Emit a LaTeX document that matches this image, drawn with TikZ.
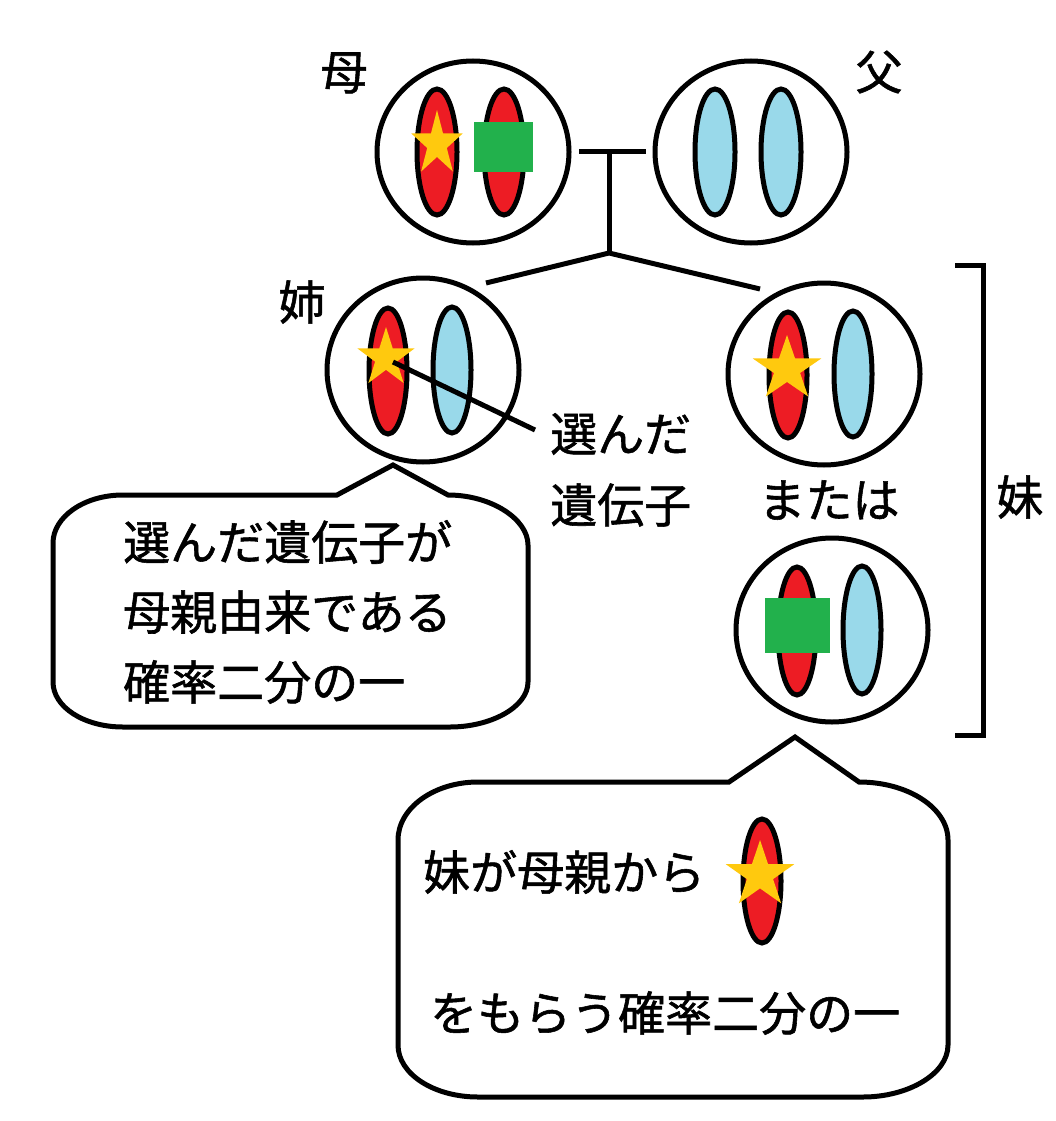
\documentclass[tikz,border=0pt]{standalone}
\usepackage{fontspec}
\newfontfamily\jp[FakeBold=1.2]{Noto Sans CJK JP}
\definecolor{cred}{HTML}{ED1C24}
\definecolor{cblue}{HTML}{99D9EA}
\definecolor{cgreen}{HTML}{22B14C}
\definecolor{cgold}{HTML}{FFC90E}
\newcommand\gstar[4]{\begin{scope}[shift={(#1,#2)},xscale=#3,yscale=-#4]
\fill[cgold] (90:1)--(126:0.382)--(162:1)--(198:0.382)--(234:1)--(270:0.382)--(306:1)--(342:0.382)--(18:1)--(54:0.382)--cycle;
\end{scope}}
\tikzset{
  ln/.style={line width=5pt},
  cell/.style={draw, line width=5pt},
  chrred/.style={draw, fill=cred, line width=5pt},
  chrblue/.style={draw, fill=cblue, line width=5pt},
  txt/.style={font=\jp\fontsize{47}{50}\selectfont, inner sep=0pt},
  bubble/.style={draw, line width=5pt, line join=miter}
}
\begin{document}
\begin{tikzpicture}[x=1pt,y=-1pt]
\fill[white] (0,0) rectangle (1055,1121);
\useasboundingbox (0,0) rectangle (1055,1121);

% ---- mother ----
\draw[cell] (473,152) ellipse [x radius=96, y radius=91];
\draw[chrred] (437,152) ellipse [x radius=20, y radius=63];
\draw[chrred] (504,152) ellipse [x radius=20, y radius=63];
\gstar{437}{144}{27}{34}
\fill[cgreen] (474,122) rectangle (533,172);
\node[txt] (mo) at (344,73) {母};

% ---- father ----
\draw[cell] (751,152) ellipse [x radius=96, y radius=91];
\draw[chrblue] (715,152) ellipse [x radius=20, y radius=63];
\draw[chrblue] (781,152) ellipse [x radius=20, y radius=63];
\node[txt] (fa) at (879,72) {父};

% ---- connectors ----
\coordinate (hl) at (579,151);
\coordinate (hr) at (646,151);
\coordinate (vt) at (609,151);
\coordinate (junc) at (609,253);
\coordinate (toane) at (486,283);
\coordinate (toimo) at (760,289);
\draw[ln] (hl) -- (hr);
\draw[ln] (vt) -- (junc);
\draw[ln] (toane) -- (junc) -- (toimo);

% ---- elder sister ----
\draw[cell] (423,370) ellipse [x radius=96, y radius=92];
\draw[chrred] (388,371) ellipse [x radius=19, y radius=63];
\draw[chrblue] (452,370) ellipse [x radius=19, y radius=63];
\gstar{386}{358}{30}{31}
\node[txt] (ane) at (302,302) {姉};
\coordinate (selpt) at (393,362);
\coordinate (selend) at (535,430);
\draw[ln] (selpt) -- (selend);
\node[txt,anchor=west] (sel1) at (550,434) {選んだ};
\node[txt,anchor=west] (sel2) at (550,505) {遺伝子};

% ---- younger sister ----
\draw[cell] (824,374) ellipse [x radius=96, y radius=91];
\draw[chrred] (788,375) ellipse [x radius=19, y radius=63];
\draw[chrblue] (853,374) ellipse [x radius=19, y radius=63];
\gstar{787}{369}{36}{34}
\node[txt] (mata) at (829,500) {または};

\draw[cell] (832,630) ellipse [x radius=96, y radius=92];
\draw[chrred] (797,631) ellipse [x radius=19, y radius=64];
\draw[chrblue] (862,630) ellipse [x radius=19, y radius=64];
\fill[cgreen] (765,598) rectangle (830,653);

% bracket
\coordinate (bt) at (955,265);
\coordinate (btc) at (983,265);
\coordinate (bbc) at (983,735);
\coordinate (bb) at (955,735);
\draw[ln, line join=miter] (bt) -- (btc) -- (bbc) -- (bb);
\node[txt] (imo) at (1020,497) {妹};

% ---- bubble 1 ----
\draw[bubble] (123,495) -- (337,495) -- (393,465) -- (448,495)
  .. controls (491,495) and (528,519) .. (528,545) -- (528,682)
  .. controls (528,707) and (491,727) .. (450,727) -- (123,727)
  .. controls (84,727) and (53,707) .. (53,682) -- (53,543)
  .. controls (53,517) and (84,495) .. (123,495) -- cycle;
\node[txt,anchor=west] (b1a) at (123,542) {選んだ遺伝子が};
\node[txt,anchor=west] (b1b) at (123,612) {母親由来である};
\node[txt,anchor=west] (b1c) at (123,682) {確率二分の一};

% ---- bubble 2 ----
\draw[bubble] (478,782) -- (729,782) -- (795,737) -- (859,782)
  .. controls (908,782) and (948,808) .. (948,840) -- (948,1045)
  .. controls (948,1074) and (908,1097) .. (863,1097) -- (478,1097)
  .. controls (434,1097) and (398,1074) .. (398,1045) -- (398,840)
  .. controls (398,808) and (434,782) .. (478,782) -- cycle;
\node[txt,anchor=west] (b2a) at (423,872) {妹が母親から};
\draw[chrred] (762,881) ellipse [x radius=19, y radius=62];
\gstar{760}{875}{36}{35}
\node[txt,anchor=west] (b2b) at (430,1013) {をもらう確率二分の一};
\end{tikzpicture}
\end{document}
